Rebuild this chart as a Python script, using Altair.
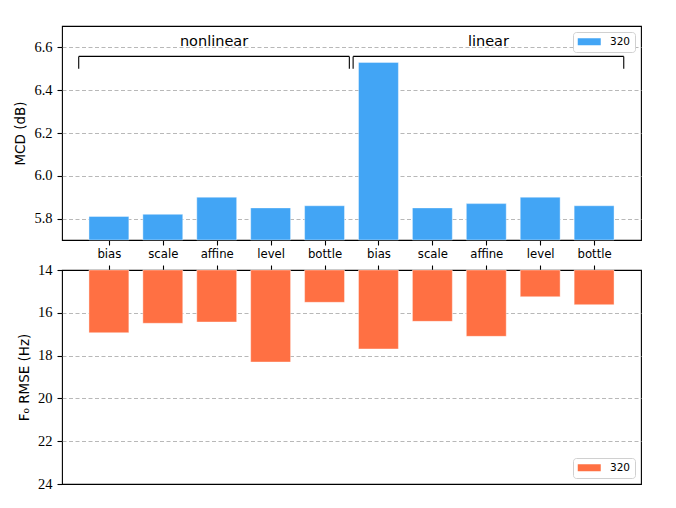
import altair as alt
import pandas as pd

methods = ["bias", "scale", "affine", "level", "bottle"]
groups = ["nonlinear", "linear"]
series_name = "320"

mcd_nonlinear = [5.81, 5.82, 5.90, 5.85, 5.86]
mcd_linear = [6.53, 5.85, 5.87, 5.90, 5.86]
f0_nonlinear = [16.93, 16.49, 16.43, 18.30, 15.51]
f0_linear = [17.69, 16.40, 17.10, 15.25, 15.62]

# bracket extents (in category-index units)
bracket_lo = [-0.56, 4.53]
bracket_hi = [4.46, 9.55]

BLUE = "#42a5f5"
ORANGE = "#ff7043"

labels = methods + methods
rows = []
for gi, g in enumerate(groups):
    mcd = mcd_nonlinear if g == "nonlinear" else mcd_linear
    f0 = f0_nonlinear if g == "nonlinear" else f0_linear
    for mi, m in enumerate(methods):
        rows.append({"idx": gi * len(methods) + mi, "method": m, "group": g,
                     "mcd": mcd[mi], "f0": f0[mi], "series": series_name})
df = pd.DataFrame(rows)

br = pd.DataFrame({"group": groups, "lo": bracket_lo, "hi": bracket_hi})

label_expr = "[" + ",".join("'%s'" % s for s in labels) + "][datum.value]"
xdom = [-0.87, 9.87]
xscale = alt.Scale(domain=xdom, nice=False, zero=False)

legend_common = dict(
    title=None, symbolType="M-2.3,-0.7H2.3V0.7H-2.3Z", symbolSize=100,
    symbolOffset=6.5, symbolStrokeWidth=0, labelFont="DejaVu Sans",
    labelFontSize=10.5, labelColor="black", strokeColor="#d0d0d0",
    fillColor="white", cornerRadius=3, padding=4.5, labelOffset=15.5, offset=6,
)

def grid_hide(test):
    return {"condition": {"test": test, "value": 0}, "value": 1}

# ---- top panel ----
top_base = alt.Chart(df).transform_calculate(
    x0="datum.idx - 0.37", x1="datum.idx + 0.37", base="5.7"
)
ytop = alt.Scale(domain=[5.7, 6.7], nice=False, zero=False)
top_bars = top_base.mark_bar(stroke="white", strokeWidth=0.8, strokeOpacity=0.5).encode(
    x=alt.X("x0:Q", scale=xscale,
            axis=alt.Axis(title=None, values=list(range(10)), labelExpr=label_expr,
                          grid=False, tickSize=5, labelPadding=3,
                          labelFont="DejaVu Sans", labelFontSize=11.7)),
    x2="x1:Q",
    y=alt.Y("mcd:Q", scale=ytop,
            axis=alt.Axis(title="MCD (dB)", values=[5.8, 6.0, 6.2, 6.4, 6.6], format=".1f")),
    y2="base:Q",
    color=alt.Color("series:N", scale=alt.Scale(domain=[series_name], range=[BLUE]),
                    legend=alt.Legend(orient="top-right", **legend_common)),
)

br_base = alt.Chart(br)
br_h = br_base.mark_rule(color="black", strokeWidth=1.1).encode(
    x=alt.X("lo:Q", scale=xscale, title=None), x2="hi:Q", y=alt.datum(6.558))
br_l = br_base.mark_rule(color="black", strokeWidth=1.1).encode(
    x=alt.X("lo:Q", scale=xscale, title=None), y=alt.datum(6.558), y2=alt.datum(6.50))
br_r = br_base.mark_rule(color="black", strokeWidth=1.1).encode(
    x=alt.X("hi:Q", scale=xscale, title=None), y=alt.datum(6.558), y2=alt.datum(6.50))
br_t = br_base.transform_calculate(mid="(datum.lo + datum.hi) / 2").mark_text(
    font="DejaVu Sans", fontSize=14.5, baseline="alphabetic", color="black", dy=-1
).encode(x=alt.X("mid:Q", scale=xscale, title=None), y=alt.datum(6.6), text="group:N")

top = alt.layer(top_bars, br_h, br_l, br_r, br_t).properties(width=579, height=214)

# ---- bottom panel ----
bot_base = alt.Chart(df).transform_calculate(
    x0="datum.idx - 0.37", x1="datum.idx + 0.37", base="14"
)
bot = bot_base.mark_bar(stroke="white", strokeWidth=0.8, strokeOpacity=0.5).encode(
    x=alt.X("x0:Q", scale=xscale,
            axis=alt.Axis(title=None, orient="top", values=list(range(10)), labels=False,
                          grid=False, tickSize=5)),
    x2="x1:Q",
    y=alt.Y("f0:Q", scale=alt.Scale(domain=[14, 24], nice=False, zero=False, reverse=True),
            axis=alt.Axis(title="F₀ RMSE (Hz)", values=[14, 16, 18, 20, 22, 24],
                          gridOpacity=grid_hide("datum.value == 14 || datum.value == 24"))),
    y2="base:Q",
    color=alt.Color("series:N", scale=alt.Scale(domain=[series_name], range=[ORANGE]),
                    legend=alt.Legend(orient="bottom-right", **legend_common)),
).properties(width=579, height=214)

chart = alt.vconcat(top, bot, spacing=0).resolve_scale(
    color="independent"
).resolve_legend(color="independent").properties(
    padding={"left": 5, "top": 17, "right": 5, "bottom": 5}
).configure_view(
    stroke="black", strokeWidth=1.1
).configure_axis(
    domain=False, tickColor="black", tickWidth=1.1, labelColor="black",
    titleColor="black", titleFontWeight="normal", titleFont="DejaVu Sans",
    titleFontSize=13.5, gridColor="#b8b8b8", gridDash=[4, 2.5], gridWidth=1,
    titlePadding=6,
).configure_axisY(
    labelFont="Liberation Serif", labelFontSize=14.5, tickSize=5, labelPadding=5,
)

chart.save("out.html", embed_options={"renderer": "svg", "actions": False})
